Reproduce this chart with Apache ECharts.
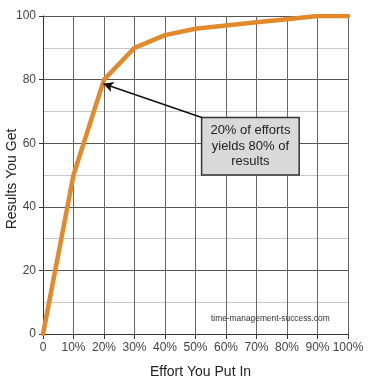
<!DOCTYPE html>
<html>
<head>
<meta charset="utf-8">
<script src="https://cdn.jsdelivr.net/npm/echarts@6/dist/echarts.min.js"></script>
<style>html,body{margin:0;padding:0;background:#fff}#c{width:371px;height:384px}</style>
</head>
<body>
<div id="c"></div>
<script>
const effort = [0, 10, 20, 30, 40, 50, 60, 70, 80, 90, 100];
const results = [0, 50, 80, 90, 94, 96, 97, 98, 99, 100, 100];
const xTickLabels = ['0', '10%', '20%', '30%', '40%', '50%', '60%', '70%', '80%', '90%', '100%'];
const yTicks = [0, 20, 40, 60, 80, 100];
const noteLines = ['20% of efforts', 'yields 80% of', 'results'];
const arrowFrom = [52.3, 68];
const arrowTo = [19.8, 78.7];
const boxCorners = [[52, 68.1], [84, 50]];
const watermark = 'time-management-success.com';

const chart = echarts.init(document.getElementById('c'), null, {renderer: 'canvas'});
const font = 'Liberation Sans, Arial, sans-serif';
chart.setOption({
  animation: false,
  backgroundColor: '#fff',
  textStyle: {fontFamily: font},
  grid: {left: 43, right: 23, top: 16, bottom: 50, containLabel: false, outerBoundsMode: 'none'},
  xAxis: {
    type: 'value', min: 0, max: 100, interval: 10,
    name: 'Effort You Put In', nameLocation: 'middle', nameGap: 31, nameMoveOverlap: false,
    nameTextStyle: {fontSize: 14, color: '#222', fontFamily: font, padding: [0, 0, 0, 10]},
    axisLine: {show: true, lineStyle: {color: '#333', width: 1}},
    axisTick: {show: true, length: 5, lineStyle: {color: '#333'}},
    axisLabel: {margin: 8, fontSize: 12, color: '#444', fontFamily: font,
      formatter: v => xTickLabels[effort.indexOf(v)] ?? ''},
    splitLine: {show: true, lineStyle: {color: '#666', width: 1}}
  },
  yAxis: {
    type: 'value', min: 0, max: 100, interval: 20,
    name: 'Results You Get', nameLocation: 'middle', nameGap: 24, nameRotate: 90, nameMoveOverlap: false,
    nameTextStyle: {fontSize: 14, color: '#222', fontFamily: font, padding: [0, 8, 0, 0]},
    axisLine: {show: true, lineStyle: {color: '#333', width: 1}},
    axisTick: {show: true, length: 4, lineStyle: {color: '#333'}},
    axisLabel: {margin: 7, fontSize: 12, color: '#444', fontFamily: font,
      formatter: v => yTicks.includes(v) ? String(v) : ''},
    splitLine: {show: true, lineStyle: {color: '#555', width: 1}},
    minorTick: {show: false, splitNumber: 2},
    minorSplitLine: {show: true, lineStyle: {color: '#c8c8c8', width: 1}}
  },
  graphic: [{
    type: 'text', left: 211, top: 315, z: 10,
    style: {text: watermark, fontSize: 8.4, fill: '#333', font: '8.4px ' + font}
  }],
  series: [{
    type: 'line',
    data: effort.map((e, i) => [e, results[i]]),
    symbol: 'none',
    lineStyle: {color: '#e28a2b', width: 4.5, cap: 'round', join: 'round'},
    z: 3,
    markLine: {
      silent: true,
      symbol: ['none', 'arrow'],
      symbolSize: [8, 10],
      label: {show: false},
      lineStyle: {color: '#111', width: 1.5, type: 'solid'},
      data: [[{coord: arrowFrom}, {coord: arrowTo}]],
      z: 5
    },
    markArea: {
      silent: true,
      itemStyle: {color: '#d9d9d9', borderColor: '#333', borderWidth: 1.5},
      label: {show: true, position: 'inside', fontSize: 13, lineHeight: 15.5,
        color: '#222', fontFamily: font, align: 'center', verticalAlign: 'middle'},
      data: [[{coord: boxCorners[0], name: noteLines.join('\n')}, {coord: boxCorners[1]}]]
    }
  }]
});
</script>
</body>
</html>
